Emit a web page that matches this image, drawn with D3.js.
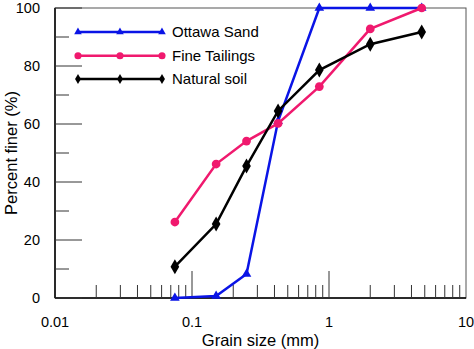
<!DOCTYPE html>
<html><head><meta charset="utf-8">
<script src="https://cdn.jsdelivr.net/npm/d3@7/dist/d3.min.js"></script>
<style>body{margin:0;background:#fff}svg{display:block;font-family:"Liberation Sans",Arial,sans-serif}</style>
</head><body><svg id="c" width="474" height="349"></svg>
<script>
const grainSizes = [0.075, 0.15, 0.25, 0.425, 0.85, 2, 4.75];
const ottawaSand = [0, 0.7, 8.3, 61, 100, 100, 100];
const fineTailings = [26.2, 46.2, 54.1, 60.2, 72.9, 92.8, 100];
const naturalSoil = [10.8, 25.5, 45.5, 64.5, 78.6, 87.5, 91.7];
const seriesNames = ["Ottawa Sand", "Fine Tailings", "Natural soil"];
const xTickLabels = ["0.01", "0.1", "1", "10"];
const yTickLabels = [0, 20, 40, 60, 80, 100];

const svg = d3.select("#c");
const L = 55, R = 466, T = 8, B = 298;
const x = d3.scaleLog().domain([0.01, 10]).range([L, R]);
const y = d3.scaleLinear().domain([0, 100]).range([B, T]);

// frame
svg.append("rect").attr("x", L).attr("y", T).attr("width", R - L).attr("height", B - T)
  .attr("fill", "none").attr("stroke", "#555").attr("stroke-width", 1);
svg.append("line").attr("x1", L).attr("x2", L).attr("y1", T).attr("y2", B).attr("stroke", "#000").attr("stroke-width", 1.5);
svg.append("line").attr("x1", L).attr("x2", R).attr("y1", B).attr("y2", B).attr("stroke", "#000").attr("stroke-width", 1.5);

// y ticks (inward)
const yMinor = d3.range(10, 100, 20);
svg.selectAll(".ymaj").data(yTickLabels).join("line")
  .attr("x1", L).attr("x2", L + 27).attr("y1", d => y(d)).attr("y2", d => y(d))
  .attr("stroke", "#333").attr("stroke-width", 1);
svg.selectAll(".ymin").data(yMinor).join("line").attr("class","ymin")
  .attr("x1", L).attr("x2", L + 14).attr("y1", d => y(d)).attr("y2", d => y(d))
  .attr("stroke", "#333").attr("stroke-width", 1);
svg.selectAll(".ylab").data(yTickLabels).join("text").attr("class","ylab")
  .attr("x", 40).attr("y", d => y(d)).attr("dy", "0.36em").attr("text-anchor", "end")
  .attr("font-size", 14.5).text(d => d);

// x ticks (inward)
const xMajor = xTickLabels.map(Number);
const xMinor = [];
[0.01, 0.1, 1].forEach(dec => { for (let k = 2; k <= 9; k++) xMinor.push(dec * k); });
svg.selectAll(".xmaj").data(xMajor.slice(1, 3)).join("line").attr("class","xmaj")
  .attr("x1", d => x(d)).attr("x2", d => x(d)).attr("y1", B).attr("y2", B - 27)
  .attr("stroke", "#333").attr("stroke-width", 1);
svg.selectAll(".xmin").data(xMinor).join("line").attr("class","xmin")
  .attr("x1", d => x(d)).attr("x2", d => x(d)).attr("y1", B).attr("y2", B - 13)
  .attr("stroke", "#333").attr("stroke-width", 1);
svg.selectAll(".xlab").data(xTickLabels).join("text").attr("class","xlab")
  .attr("x", d => x(+d)).attr("y", 322).attr("dy", "0.36em").attr("text-anchor", "middle")
  .attr("font-size", 14.5).text(d => d);

// axis titles
svg.append("text").attr("x", (L + R) / 2).attr("y", 340).attr("dy", "0.36em")
  .attr("text-anchor", "middle").attr("font-size", 16.5).text("Grain size (mm)");
svg.append("text").attr("transform", `translate(11,${(T + B) / 2}) rotate(-90)`)
  .attr("dy", "0.36em").attr("text-anchor", "middle").attr("font-size", 16.5).text("Percent finer (%)");

const colors = ["#0a14e6", "#f0196e", "#000000"];
const datasets = [ottawaSand, fineTailings, naturalSoil];
const markers = [d3.symbolTriangle, d3.symbolCircle, d3.symbolDiamond];
const mSize = [40, 60, 65];
const lSize = [25, 40, 30];

const line = d3.line().x(d => x(d[0])).y(d => y(d[1]));
const order = [0, 1, 2];
order.forEach(i => {
  const pts = grainSizes.map((g, j) => [g, datasets[i][j]]);
  svg.append("path").datum(pts).attr("d", line).attr("fill", "none")
    .attr("stroke", colors[i]).attr("stroke-width", 2.5);
  svg.selectAll(".m" + i).data(pts).join("path").attr("class", "m" + i)
    .attr("transform", d => `translate(${x(d[0])},${y(d[1])})`)
    .attr("d", d3.symbol().type(markers[i]).size(mSize[i])).attr("fill", colors[i]);
});

// legend
const legY = [32, 55.7, 79];
seriesNames.forEach((name, i) => {
  const g = svg.append("g").attr("transform", `translate(0,${legY[i]})`);
  g.append("line").attr("x1", 78).attr("x2", 162).attr("stroke", colors[i]).attr("stroke-width", 2.5);
  [78, 120, 162].forEach(px => g.append("path").attr("transform", `translate(${px},0)`)
    .attr("d", d3.symbol().type(markers[i]).size(lSize[i])).attr("fill", colors[i]));
  g.append("text").attr("x", 172).attr("dy", "0.36em").attr("font-size", 15).text(name);
});
</script></body></html>
